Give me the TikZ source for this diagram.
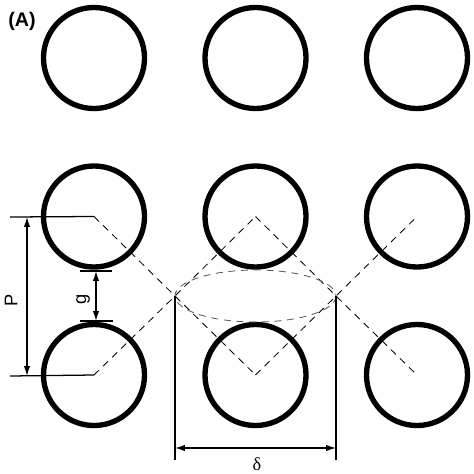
\documentclass[tikz,border=0pt]{standalone}
\usepackage{fontspec}
\setmainfont{Liberation Sans}
\newfontfamily\greekfont{Liberation Serif}
\usetikzlibrary{arrows.meta,positioning}

\begin{document}
\begin{tikzpicture}
	[x=0.025cm,y=-0.025cm,
	 fiber/.style={circle,draw,line width=3.8pt,minimum size=2.525cm,inner sep=0pt},
	 guide/.style={dashed,line width=0.6pt,dash pattern=on 5pt off 4pt},
	 dimline/.style={line width=0.9pt},
	 dimarrow/.style={line width=0.9pt,{Latex[length=7pt,width=4.5pt]}-{Latex[length=7pt,width=4.5pt]}},
	 tick/.style={line width=1.5pt},
	 lbl/.style={font=\fontsize{13}{15}\selectfont,inner sep=0pt}]

	\useasboundingbox (0,0) rectangle (474,474);
	%\draw[help lines,step=20] (0,0) grid (474,474);

	% fibres
	\foreach \r/\y in {1/58,2/216.5,3/375}
	  \foreach \c/\x in {1/94,2/255.5,3/417}
	    \node[fiber] (c\r\c) at (\x,\y) {};

	\node[lbl,font=\bfseries\fontsize{14}{16}\selectfont] (tag) at (22,21) {(A)};

	% unit cell
	\coordinate (xl) at (175,296);
	\coordinate (xr) at (336,296);
	\draw[guide] (c21.center) -- (xl) -- (c32.center);
	\draw[guide] (c31.center) -- (xl) -- (c22.center);
	\draw[guide] (c22.center) -- (xr) -- (c33.center);
	\draw[guide] (c32.center) -- (xr) -- (c23.center);
	\draw[guide,black!65] (255.5,296) ellipse (80.5 and 26);

	% pitch P
	\coordinate (pt) at (10,217);
	\coordinate (pb) at (10,376);
	\draw[dimline] (pt) -- (c21.center);
	\draw[dimline] (pb) -- (c31.center);
	\coordinate (pa) at (27,217);
	\coordinate (pc) at (27,376);
	\draw[dimarrow] (pa) -- (pc);
	\node[lbl,rotate=90] (P) at (11,300) {P};

	% gap g
	\coordinate (gt) at (96,271);
	\coordinate (gb) at (96,321);
	\draw[tick] (80,271) -- (112,271);
	\draw[tick] (80,321) -- (113,321);
	\draw[dimarrow] (gt) -- (gb);
	\node[lbl,rotate=90] (g) at (83,299) {g};

	% width delta
	\coordinate (dl) at (175,460);
	\coordinate (dr) at (336,460);
	\draw[dimline] (xl) -- (dl);
	\draw[dimline] (xr) -- (dr);
	\draw[dimarrow] (175,448) -- (336,448);
	\node[lbl,font=\greekfont\fontsize{13}{15}\selectfont] (delta) at (257,464) {δ};

\end{tikzpicture}
\end{document}
